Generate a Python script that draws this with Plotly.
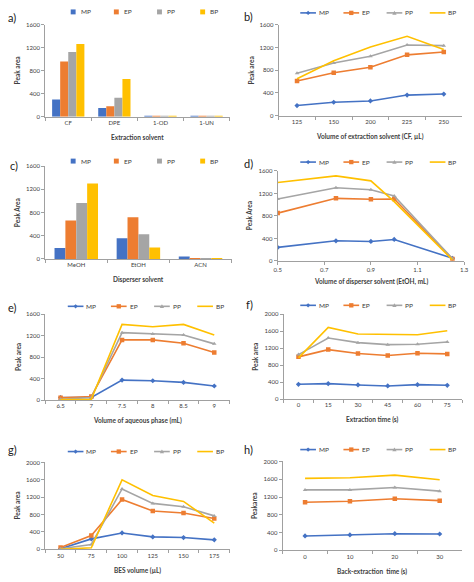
import plotly.graph_objects as go

W, H = 474, 582
SERIES = ["MP", "EP", "PP", "BP"]
COLORS = {"MP": "#4472C4", "EP": "#ED7D31", "PP": "#A5A5A5", "BP": "#FFC000"}
SYMBOLS = {"MP": "diamond", "EP": "square", "PP": "triangle-up", "BP": "line-ew"}
FONT = "Lato"

# ---- data ----
a_cats = ["CF", "DPE", "1-OD", "1-UN"]
a_MP = [300, 150, 12, 5]
a_EP = [960, 180, 5, 4]
a_PP = [1125, 330, 5, 4]
a_BP = [1265, 655, 5, 5]

b_cats = ["125", "150", "200", "225", "250"]
b_MP = [178, 236, 259, 362, 380]
b_EP = [610, 754, 852, 1070, 1120]
b_PP = [748, 927, 1047, 1243, 1232]
b_BP = [650, 967, 1209, 1398, 1163]

c_cats = ["MeOH", "EtOH", "ACN"]
c_MP = [187, 356, 40]
c_EP = [662, 718, 12]
c_PP = [961, 424, 10]
c_BP = [1300, 198, 10]

d_x = [0.5, 0.75, 0.9, 1.0, 1.25]
d_MP = [240, 357, 346, 381, 47]
d_EP = [850, 1113, 1096, 1102, 35]
d_PP = [1102, 1301, 1266, 1154, 41]
d_BP = [1395, 1512, 1424, 1055, 18]

e_cats = ["6.5", "7", "7.5", "8", "8.5", "9"]
e_MP = [49, 49, 374, 362, 331, 264]
e_EP = [43, 67, 1122, 1122, 1060, 889]
e_PP = [18, 49, 1257, 1232, 1214, 1048]
e_BP = [12, 18, 1410, 1367, 1410, 1214]

f_cats = ["0", "15", "30", "45", "60", "75"]
f_MP = [350, 366, 335, 311, 342, 327]
f_EP = [996, 1167, 1074, 1027, 1082, 1066]
f_PP = [1050, 1440, 1331, 1284, 1292, 1346]
f_BP = [973, 1689, 1533, 1533, 1517, 1611]

g_cats = ["50", "75", "100", "125", "150", "175"]
g_MP = [15, 241, 377, 287, 272, 219]
g_EP = [45, 317, 1147, 883, 838, 709]
g_PP = [15, 113, 1389, 1057, 981, 770]
g_BP = [0, 38, 1600, 1238, 1102, 604]

h_cats = ["0", "10", "20", "30"]
h_MP = [324, 346, 375, 368]
h_EP = [1081, 1103, 1162, 1118]
h_PP = [1360, 1360, 1412, 1331]
h_BP = [1618, 1632, 1691, 1588]

# ---- panel definitions (layout in pixels) ----
panels = [
    dict(key="a", kind="bar", x=a_cats, ys=[a_MP, a_EP, a_PP, a_BP], ymax=1600,
         px=(42, 230), py=(21, 114), ytitle="Peak area", xtitle="Extraction solvent",
         leg=(68, 8), lab=(2, 14)),
    dict(key="b", kind="line", x=b_cats, ys=[b_MP, b_EP, b_PP, b_BP], ymax=1600,
         px=(280, 467), py=(21, 113), ytitle="Peak area",
         xtitle="Volume of extraction solvent (CF, µL)", leg=(302, 9), lab=(243, 13)),
    dict(key="c", kind="bar", x=c_cats, ys=[c_MP, c_EP, c_PP, c_BP], ymax=1600,
         px=(42, 232), py=(164, 258), ytitle="Peak Area", xtitle="Disperser solvent",
         leg=(68, 159), lab=(4, 163)),
    dict(key="d", kind="num", x=d_x, ys=[d_MP, d_EP, d_PP, d_BP], ymax=1600,
         px=(279, 469), py=(169, 260), ytitle="Peak Area",
         xtitle="Volume of disperser solvent (EtOH, mL)", leg=(302, 160), lab=(243, 161)),
    dict(key="e", kind="line", x=e_cats, ys=[e_MP, e_EP, e_PP, e_BP], ymax=1600,
         px=(42, 230), py=(314, 401), ytitle="Peak area",
         xtitle="Volume of aqueous phase (mL)", leg=(65, 306), lab=(2, 307)),
    dict(key="f", kind="line", x=f_cats, ys=[f_MP, f_EP, f_PP, f_BP], ymax=2000,
         px=(285, 467), py=(314, 400), ytitle="Peak area", xtitle="Extraction time (s)",
         leg=(302, 305), lab=(245, 304)),
    dict(key="g", kind="line", x=g_cats, ys=[g_MP, g_EP, g_PP, g_BP], ymax=2000,
         px=(42, 230), py=(464, 552), ytitle="Peak area", xtitle="BES volume (µL)",
         leg=(65, 453), lab=(2, 451)),
    dict(key="h", kind="line", x=h_cats, ys=[h_MP, h_EP, h_PP, h_BP], ymax=2000,
         px=(284, 467), py=(463, 553), ytitle="Peakarea",
         xtitle="Back-extraction  time (s)", leg=(302, 451), lab=(243, 451)),
]

LEG_STEP = 44


def PX(x):
    return x / W


def PY(y):
    return 1 - y / H


def marker_path(sym, cx, cy, r):
    if sym == "diamond":
        pts = [(cx, cy - r), (cx + r, cy), (cx, cy + r), (cx - r, cy)]
    elif sym == "square":
        pts = [(cx - r, cy - r), (cx + r, cy - r), (cx + r, cy + r), (cx - r, cy + r)]
    elif sym == "triangle-up":
        pts = [(cx, cy - r), (cx + r, cy + r * 0.8), (cx - r, cy + r * 0.8)]
    else:
        return None
    return "M " + " L ".join(f"{PX(x):.5f},{PY(y):.5f}" for x, y in pts) + " Z"


fig = go.Figure()
layout = dict(width=W, height=H, margin=dict(l=0, r=0, t=0, b=0),
              paper_bgcolor="white", plot_bgcolor="white",
              font=dict(family=FONT, size=6, color="#404040"),
              barmode="group", bargap=0.3, bargroupgap=0.0, showlegend=False)
annotations = []
shapes = []
AX = "#A0A0A0"
TXT = "#404040"

for i, p in enumerate(panels):
    n = i + 1
    xa = "x" if n == 1 else f"x{n}"
    ya = "y" if n == 1 else f"y{n}"
    for s, yv in zip(SERIES, p["ys"]):
        if p["kind"] == "bar":
            fig.add_trace(go.Bar(x=p["x"], y=yv, name=s, marker_color=COLORS[s],
                                 marker_line_width=0, xaxis=xa, yaxis=ya))
        else:
            mk = dict(symbol=SYMBOLS[s], size=4 if s != "EP" else 4.5, color=COLORS[s])
            mode = "lines+markers" if s != "BP" else "lines"
            fig.add_trace(go.Scatter(x=p["x"], y=yv, name=s, mode=mode,
                                     line=dict(color=COLORS[s], width=1.6), marker=mk,
                                     xaxis=xa, yaxis=ya))
    x0, x1 = p["px"]
    ytop, ybot = p["py"]
    xdom = [x0 / W, x1 / W]
    ydom = [1 - ybot / H, 1 - ytop / H]
    xkey = "xaxis" if n == 1 else f"xaxis{n}"
    ykey = "yaxis" if n == 1 else f"yaxis{n}"
    if p["kind"] == "num":
        xaxis = dict(domain=xdom, anchor=ya, type="linear", range=[0.5, 1.3],
                     tickvals=[0.5, 0.7, 0.9, 1.1, 1.3],
                     ticktext=["0.5", "0.7", "0.9", "1.1", "1.3"],
                     ticks="outside", ticklen=3, tickcolor=AX)
    else:
        xaxis = dict(domain=xdom, anchor=ya, type="category",
                     range=[-0.5, len(p["x"]) - 0.5], ticks="outside",
                     tickson="boundaries", ticklen=3, tickcolor=AX)
    xaxis.update(showline=True, linecolor=AX, linewidth=1, showgrid=False,
                 zeroline=False, fixedrange=True,
                 tickfont=dict(family=FONT, size=6, color=TXT))
    yaxis = dict(domain=ydom, anchor=xa, range=[0, p["ymax"]], dtick=400,
                 tick0=0, showline=True, linecolor=AX, linewidth=1, showgrid=False,
                 zeroline=False, ticks="outside", ticklen=3, tickcolor=AX,
                 tickfont=dict(family=FONT, size=6, color=TXT), fixedrange=True)
    layout[xkey] = xaxis
    layout[ykey] = yaxis

    # legend (drawn as decoration above each panel)
    lx, ly = p["leg"]
    for k, s in enumerate(SERIES):
        bx = lx + k * LEG_STEP
        if p["kind"] == "bar":
            shapes.append(dict(type="rect", xref="paper", yref="paper",
                               x0=PX(bx), x1=PX(bx + 5), y0=PY(ly + 2.5), y1=PY(ly - 2.5),
                               fillcolor=COLORS[s], line=dict(width=0)))
            tx = bx + 8
        else:
            shapes.append(dict(type="line", xref="paper", yref="paper",
                               x0=PX(bx), x1=PX(bx + 16), y0=PY(ly), y1=PY(ly),
                               line=dict(color=COLORS[s], width=1.6)))
            path = marker_path(SYMBOLS[s], bx + 8, ly, 2.2)
            if path:
                shapes.append(dict(type="path", xref="paper", yref="paper", path=path,
                                   fillcolor=COLORS[s], line=dict(width=0)))
            tx = bx + 17
        annotations.append(dict(text=s, x=PX(tx), y=PY(ly), xref="paper", yref="paper",
                                showarrow=False, xanchor="left", yanchor="middle",
                                font=dict(family=FONT, size=6.5, color=TXT)))

    # axis titles
    annotations.append(dict(text=f"<b>{p['xtitle']}</b>", x=PX((x0 + x1) / 2),
                            y=PY(ybot + 21), xref="paper", yref="paper",
                            showarrow=False, xanchor="center", yanchor="middle",
                            font=dict(family=FONT, size=6.5, color=TXT)))
    annotations.append(dict(text=f"<b>{p['ytitle']}</b>", x=PX(x0 - 28),
                            y=PY((ytop + ybot) / 2), xref="paper", yref="paper",
                            showarrow=False, textangle=-90, xanchor="center",
                            yanchor="middle", font=dict(family=FONT, size=6.5, color=TXT)))
    lbx, lby = p["lab"]
    annotations.append(dict(text=f"{p['key']})", x=PX(lbx), y=PY(lby),
                            xref="paper", yref="paper", showarrow=False,
                            xanchor="left", yanchor="middle",
                            font=dict(family=FONT, size=11, color="#202020")))

layout["annotations"] = annotations
layout["shapes"] = shapes
fig.update_layout(**layout)
fig.write_html("out.html")
